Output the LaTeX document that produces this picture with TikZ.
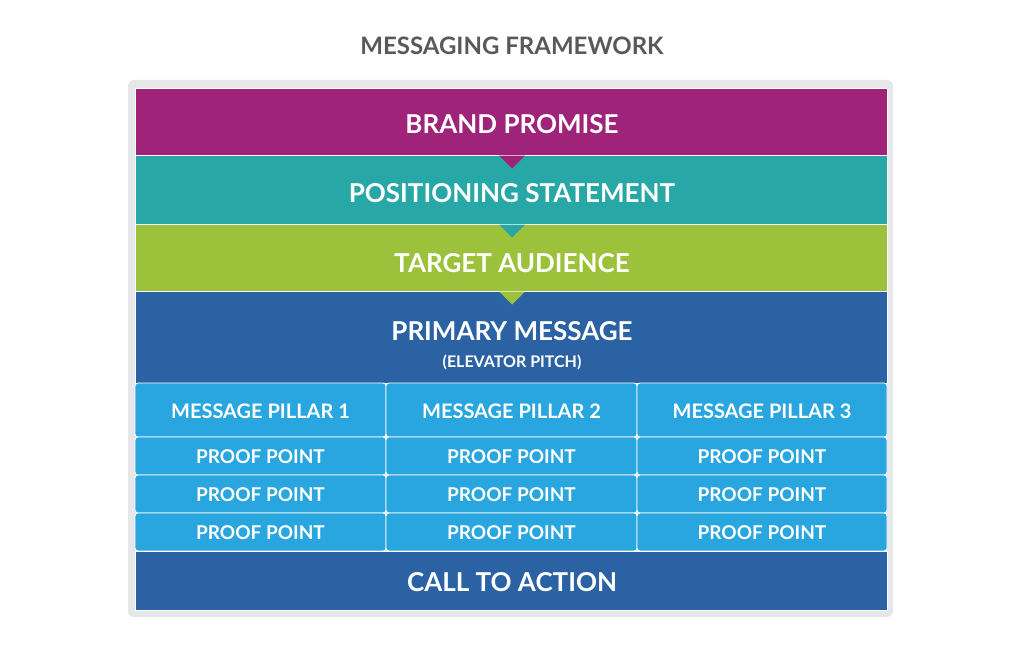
\documentclass[tikz,border=0pt]{standalone}
\usepackage{fontspec}
\setmainfont{Lato}
\definecolor{promise}{HTML}{A0237A}
\definecolor{position}{HTML}{27A8A6}
\definecolor{audience}{HTML}{9CC13B}
\definecolor{primary}{HTML}{2B62A3}
\definecolor{pillar}{HTML}{29A6DF}
\definecolor{frame}{HTML}{E6E7E8}
\definecolor{heading}{HTML}{58595B}
\tikzset{
  band/.style={draw=white, line width=0.8pt},
  label/.style={text=white, font=\bfseries\fontsize{26}{28}\selectfont},
  cell/.style={text=white, font=\bfseries\fontsize{19}{21}\selectfont},
}
\newcommand{\notch}[2]{\fill[#1] (499,#2) -- (525,#2) -- (512,#2+13) -- cycle;}
\begin{document}
\begin{tikzpicture}[x=1pt,y=-1pt]
    \useasboundingbox (0,0) rectangle (1024,666);
    \node[text=heading, font=\bfseries\fontsize{24}{26}\selectfont] (title) at (512,46) {MESSAGING FRAMEWORK};
    \fill[frame, rounded corners=6pt] (128,80) rectangle (893,617);

    % stacked bands
    \filldraw[band, fill=promise] (135,88) rectangle (887,155);
    \filldraw[band, fill=position] (135,155) rectangle (887,224);
    \filldraw[band, fill=audience] (135,224) rectangle (887,291);
    \filldraw[band, fill=primary] (135,291) rectangle (887,383);
    \notch{promise}{155.5}
    \notch{position}{224.5}
    \notch{audience}{291.5}

    % pillars and proof points
    \foreach \x/\xx [count=\c] in {135/386, 386/637, 637/887} {
      \filldraw[band, fill=pillar, rounded corners=3pt] (\x,383) rectangle (\xx,437);
      \node[cell, font=\bfseries\fontsize{20}{22}\selectfont] (pillar\c) at ({(\x+\xx)/2},411) {MESSAGE PILLAR \c};
      \foreach \y [count=\r] in {437,475,513} {
        \filldraw[band, fill=pillar, rounded corners=3pt] (\x,\y) rectangle (\xx,\y+38);
        \node[cell] (proof\c\r) at ({(\x+\xx)/2},\y+20) {PROOF POINT};
      }
    }
    \filldraw[band, fill=primary] (135,551) rectangle (887,610);

    \node[label] (brand) at (512,124) {BRAND PROMISE};
    \node[label] (positioning) at (512,193) {POSITIONING STATEMENT};
    \node[label] (target) at (512,263) {TARGET AUDIENCE};
    \node[label] (message) at (512,331) {PRIMARY MESSAGE};
    \node[text=white, font=\bfseries\fontsize{16}{18}\selectfont] (pitch) at (512,362) {(ELEVATOR PITCH)};
    \node[label] (action) at (512,582) {CALL TO ACTION};
\end{tikzpicture}
\end{document}
